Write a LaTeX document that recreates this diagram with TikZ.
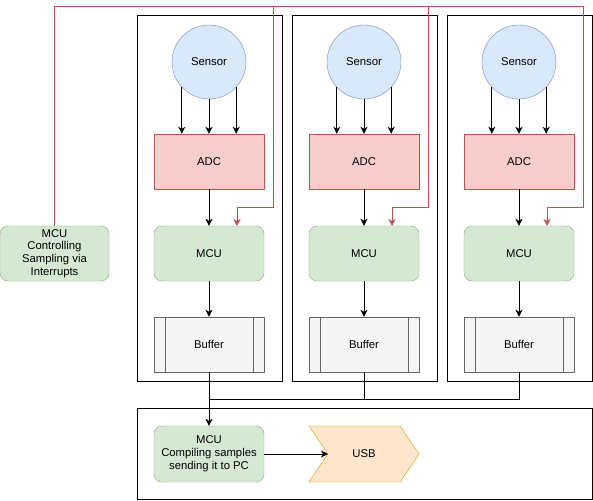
\documentclass[tikz,border=0pt]{standalone}
\usepackage{fontspec}
\setmainfont{Liberation Sans}
\usetikzlibrary{arrows.meta,shapes.symbols,calc}
\definecolor{bluefill}{HTML}{DAE8FC}\definecolor{bluedraw}{HTML}{6C8EBF}
\definecolor{redfill}{HTML}{F8CECC}\definecolor{reddraw}{HTML}{B85450}
\definecolor{greenfill}{HTML}{D5E8D4}\definecolor{greendraw}{HTML}{82B366}
\definecolor{grayfill}{HTML}{F5F5F5}\definecolor{graydraw}{HTML}{666666}
\definecolor{orangefill}{HTML}{FFE6CC}\definecolor{orangedraw}{HTML}{D79B00}
\begin{document}
\begin{tikzpicture}[x=1pt,y=-1pt,
  every node/.style={font=\fontsize{11.3}{12.8}\selectfont, inner sep=0pt, align=center},
  sensorbox/.style={circle, draw=bluedraw, fill=bluefill, minimum size=74pt},
  adcbox/.style={rectangle, draw=reddraw, fill=redfill, minimum width=110pt, minimum height=55pt},
  mcubox/.style={rectangle, rounded corners=8pt, draw=greendraw, fill=greenfill, minimum width=110pt, minimum height=55pt},
  bufbox/.style={rectangle, draw=graydraw, fill=grayfill, minimum width=110pt, minimum height=55pt},
  colbox/.style={draw=black, line width=1pt},
  conn/.style={draw=black, line width=1pt, -{Stealth[length=7pt,width=7pt,inset=2pt]}},
  plain/.style={draw=black, line width=1pt},
  redconn/.style={draw=reddraw, line width=1pt, -{Stealth[length=7pt,width=7pt,inset=2pt]}},
  redline/.style={draw=reddraw, line width=1pt}
]
\useasboundingbox (0,0) rectangle (593,500);
% column frames
\draw[colbox] (137,16) rectangle (282,381);
\draw[colbox] (292,16) rectangle (437,381);
\draw[colbox] (447,16) rectangle (592,381);
\draw[colbox] (137,408) rectangle (592,499);

% left MCU
\node[mcubox, minimum width=109pt, minimum height=55pt] (lm) at (54.5,253.5) {MCU\\Controlling\\Sampling via\\Interrupts};

\foreach \i/\cx in {1/209,2/364,3/519}{
  \node[sensorbox] (s\i) at (\cx,62) {Sensor};
  \node[adcbox] (a\i) at (\cx,161.5) {ADC};
  \node[mcubox] (m\i) at (\cx,253.5) {MCU};
  \node[bufbox] (b\i) at (\cx,344.5) {Buffer};
  \draw[graydraw] ($(b\i.north west)+(11,0)$) -- ($(b\i.south west)+(11,0)$);
  \draw[graydraw] ($(b\i.north east)+(-11,0)$) -- ($(b\i.south east)+(-11,0)$);
  \draw[conn] (s\i.-137) -- (s\i.-137 |- a\i.north);
  \draw[conn] (s\i.south) -- (a\i.north);
  \draw[conn] (s\i.-43) -- (s\i.-43 |- a\i.north);
  \draw[conn] (a\i.south) -- (m\i.north);
  \draw[conn] (m\i.south) -- (b\i.north);
  \coordinate (t\i) at (\cx+64,7);
  \coordinate (k\i) at (\cx+28,207);
  \coordinate (e\i) at (\cx+28,226);
  \draw[redline] (lm.north) |- (t\i) |- (k\i);
  \draw[redconn] (k\i) -- (e\i);
}

% bottom
\node[mcubox, minimum width=110pt, minimum height=56pt] (bm) at (209,454) {MCU\\Compiling samples\\sending it to PC};
\node[signal, signal to=east, signal from=west, signal pointer angle=112, draw=orangedraw, fill=orangefill, minimum width=110pt, minimum height=56pt] (usb) at (364,454) {USB};
\coordinate (j) at (209,399);
\draw[plain] (b2.south) |- (j);
\draw[plain] (b3.south) |- (j);
\draw[conn] (b1.south) -- (bm.north);
\draw[conn] (bm.east) -- ($(usb.center)+(-36,0)$);
\end{tikzpicture}
\end{document}
